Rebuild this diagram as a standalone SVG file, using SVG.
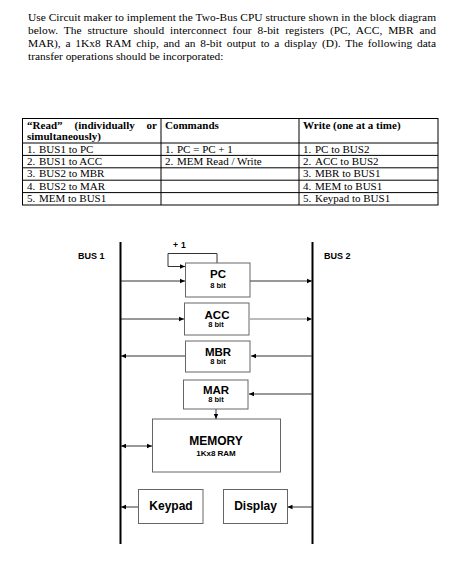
<svg xmlns="http://www.w3.org/2000/svg" width="460" height="564" viewBox="0 0 460 564">
<style>
.p{font-family:"Liberation Serif","Times New Roman",serif;font-size:11.4px;fill:#000}
.t{font-family:"Liberation Serif","Times New Roman",serif;font-size:11px;fill:#000}
.th{font-family:"Liberation Serif","Times New Roman",serif;font-size:11px;font-weight:bold;fill:#000}
.tl{stroke:#000;stroke-width:1;fill:none}
.bus{stroke:#000;stroke-width:2;fill:none}
.box{fill:#fff;stroke:#666;stroke-width:1}
.w{stroke:#333;stroke-width:1;fill:none}
.lb{font-family:"Liberation Sans",Arial,sans-serif;font-weight:bold;fill:#000;text-anchor:middle}
.big{font-size:11.5px}
.sm{font-size:7.5px}
.bl{font-family:"Liberation Sans",Arial,sans-serif;font-weight:bold;font-size:9px;fill:#000}
</style>
<defs>
<marker id="ah" markerWidth="6" markerHeight="6" refX="5" refY="3" orient="auto" markerUnits="userSpaceOnUse">
<path d="M0,0.8 L5,3 L0,5.2 Z" fill="#000"/>
</marker>
<marker id="as" markerWidth="6" markerHeight="6" refX="0" refY="3" orient="auto" markerUnits="userSpaceOnUse">
<path d="M5,0.8 L0,3 L5,5.2 Z" fill="#000"/>
</marker>
</defs>

<g id="paragraph">
<text class="p" x="28" y="21" textLength="408" lengthAdjust="spacing">Use Circuit maker to implement the Two-Bus CPU structure shown in the block diagram</text>
<text class="p" x="28" y="34" word-spacing="3" textLength="408" lengthAdjust="spacing">below.  The structure should interconnect four 8-bit registers (PC, ACC, MBR and</text>
<text class="p" x="28" y="47" word-spacing="1.9" textLength="408" lengthAdjust="spacing">MAR), a 1Kx8 RAM chip, and an 8-bit output to a display (D). The following data</text>
<text class="p" x="28" y="60">transfer operations should be incorporated:</text>
</g>

<g id="table">
<rect class="tl" x="22.5" y="118.5" width="415.5" height="86.5"/>
<line class="tl" x1="161" y1="118.5" x2="161" y2="205"/>
<line class="tl" x1="299" y1="118.5" x2="299" y2="205"/>
<line class="tl" x1="22.5" y1="143" x2="438" y2="143"/>
<line class="tl" x1="22.5" y1="155.4" x2="438" y2="155.4"/>
<line class="tl" x1="22.5" y1="167.8" x2="438" y2="167.8"/>
<line class="tl" x1="22.5" y1="180.2" x2="438" y2="180.2"/>
<line class="tl" x1="22.5" y1="192.6" x2="438" y2="192.6"/>
<text class="th" x="27" y="129" word-spacing="9" textLength="130" lengthAdjust="spacing">“Read” (individually or</text>
<text class="th" x="27" y="140">simultaneously)</text>
<text class="th" x="165" y="129">Commands</text>
<text class="th" x="303" y="129">Write (one at a time)</text>
<text class="t" x="27" y="152.5">1.</text><text class="t" x="39" y="152.5">BUS1 to PC</text>
<text class="t" x="27" y="164.9">2.</text><text class="t" x="39" y="164.9">BUS1 to ACC</text>
<text class="t" x="27" y="177.3">3.</text><text class="t" x="39" y="177.3">BUS2 to MBR</text>
<text class="t" x="27" y="189.7">4.</text><text class="t" x="39" y="189.7">BUS2 to MAR</text>
<text class="t" x="27" y="202.1">5.</text><text class="t" x="39" y="202.1">MEM to BUS1</text>
<text class="t" x="165" y="152.5">1.</text><text class="t" x="177" y="152.5">PC = PC + 1</text>
<text class="t" x="165" y="164.9">2.</text><text class="t" x="177" y="164.9">MEM Read / Write</text>
<text class="t" x="303" y="152.5">1.</text><text class="t" x="315" y="152.5">PC to BUS2</text>
<text class="t" x="303" y="164.9">2.</text><text class="t" x="315" y="164.9">ACC to BUS2</text>
<text class="t" x="303" y="177.3">3.</text><text class="t" x="315" y="177.3">MBR to BUS1</text>
<text class="t" x="303" y="189.7">4.</text><text class="t" x="315" y="189.7">MEM to BUS1</text>
<text class="t" x="303" y="202.1">5.</text><text class="t" x="315" y="202.1">Keypad to BUS1</text>
</g>

<g id="bus1">
<line class="bus" x1="120.5" y1="242" x2="120.5" y2="544"/>
<text class="bl" x="78" y="259">BUS 1</text>
</g>
<g id="bus2">
<line class="bus" x1="312.5" y1="242" x2="312.5" y2="544"/>
<text class="bl" x="324" y="259">BUS 2</text>
</g>

<g id="connectors">
<polyline class="w" points="217,263 217,253.5 168,253.5 168,266.5 185,266.5" marker-end="url(#ah)"/>
<text class="bl" y="248" style="font-size:8.5px"><tspan x="173">+</tspan><tspan x="181">1</tspan></text>
<line class="w" x1="121" y1="281" x2="185" y2="281" marker-end="url(#ah)"/>
<line class="w" x1="250" y1="281" x2="312" y2="281" marker-end="url(#ah)"/>
<line class="w" x1="121" y1="319" x2="184" y2="319" marker-end="url(#ah)"/>
<line class="w" x1="250" y1="319" x2="312" y2="319" marker-end="url(#ah)" style="stroke:#777"/>
<line class="w" x1="312" y1="356" x2="251" y2="356" marker-end="url(#ah)"/>
<line class="w" x1="185" y1="356" x2="121" y2="356" marker-end="url(#ah)"/>
<line class="w" x1="312" y1="394" x2="249" y2="394" marker-end="url(#ah)"/>
<line class="w" x1="216" y1="409" x2="216" y2="419" marker-end="url(#ah)"/>
<line class="w" x1="121" y1="446" x2="152" y2="446" marker-start="url(#as)" marker-end="url(#ah)"/>
<line class="w" x1="138" y1="507" x2="121" y2="507" marker-end="url(#ah)"/>
<line class="w" x1="312" y1="507" x2="287.5" y2="507" marker-end="url(#ah)"/>
</g>

<g id="pc">
<rect class="box" x="185.5" y="263" width="64.5" height="34"/>
<text class="lb big" x="218" y="278">PC</text>
<text class="lb sm" x="218" y="287.5">8 bit</text>
</g>
<g id="acc">
<rect class="box" x="184.5" y="303" width="64.5" height="32"/>
<text class="lb big" x="217" y="319">ACC</text>
<text class="lb sm" x="216" y="327">8 bit</text>
</g>
<g id="mbr">
<rect class="box" x="185.5" y="341" width="64.5" height="31"/>
<text class="lb big" x="218" y="356">MBR</text>
<text class="lb sm" x="218" y="364">8 bit</text>
</g>
<g id="mar">
<rect class="box" x="183.5" y="380" width="64.5" height="29"/>
<text class="lb big" x="216" y="394">MAR</text>
<text class="lb sm" x="216" y="402">8 bit</text>
</g>
<g id="memory">
<rect class="box" x="152.5" y="419" width="128" height="53"/>
<text class="lb" x="216" y="445" style="font-size:12px">MEMORY</text>
<text class="lb" x="216" y="455.5" style="font-size:8px">1Kx8 RAM</text>
</g>
<g id="keypad">
<rect class="box" x="138.5" y="489.5" width="64.5" height="34"/>
<text class="lb" x="171" y="510" style="font-size:12px">Keypad</text>
</g>
<g id="display">
<rect class="box" x="223.5" y="489.5" width="64" height="34"/>
<text class="lb" x="255.5" y="510" style="font-size:12px">Display</text>
</g>
</svg>
